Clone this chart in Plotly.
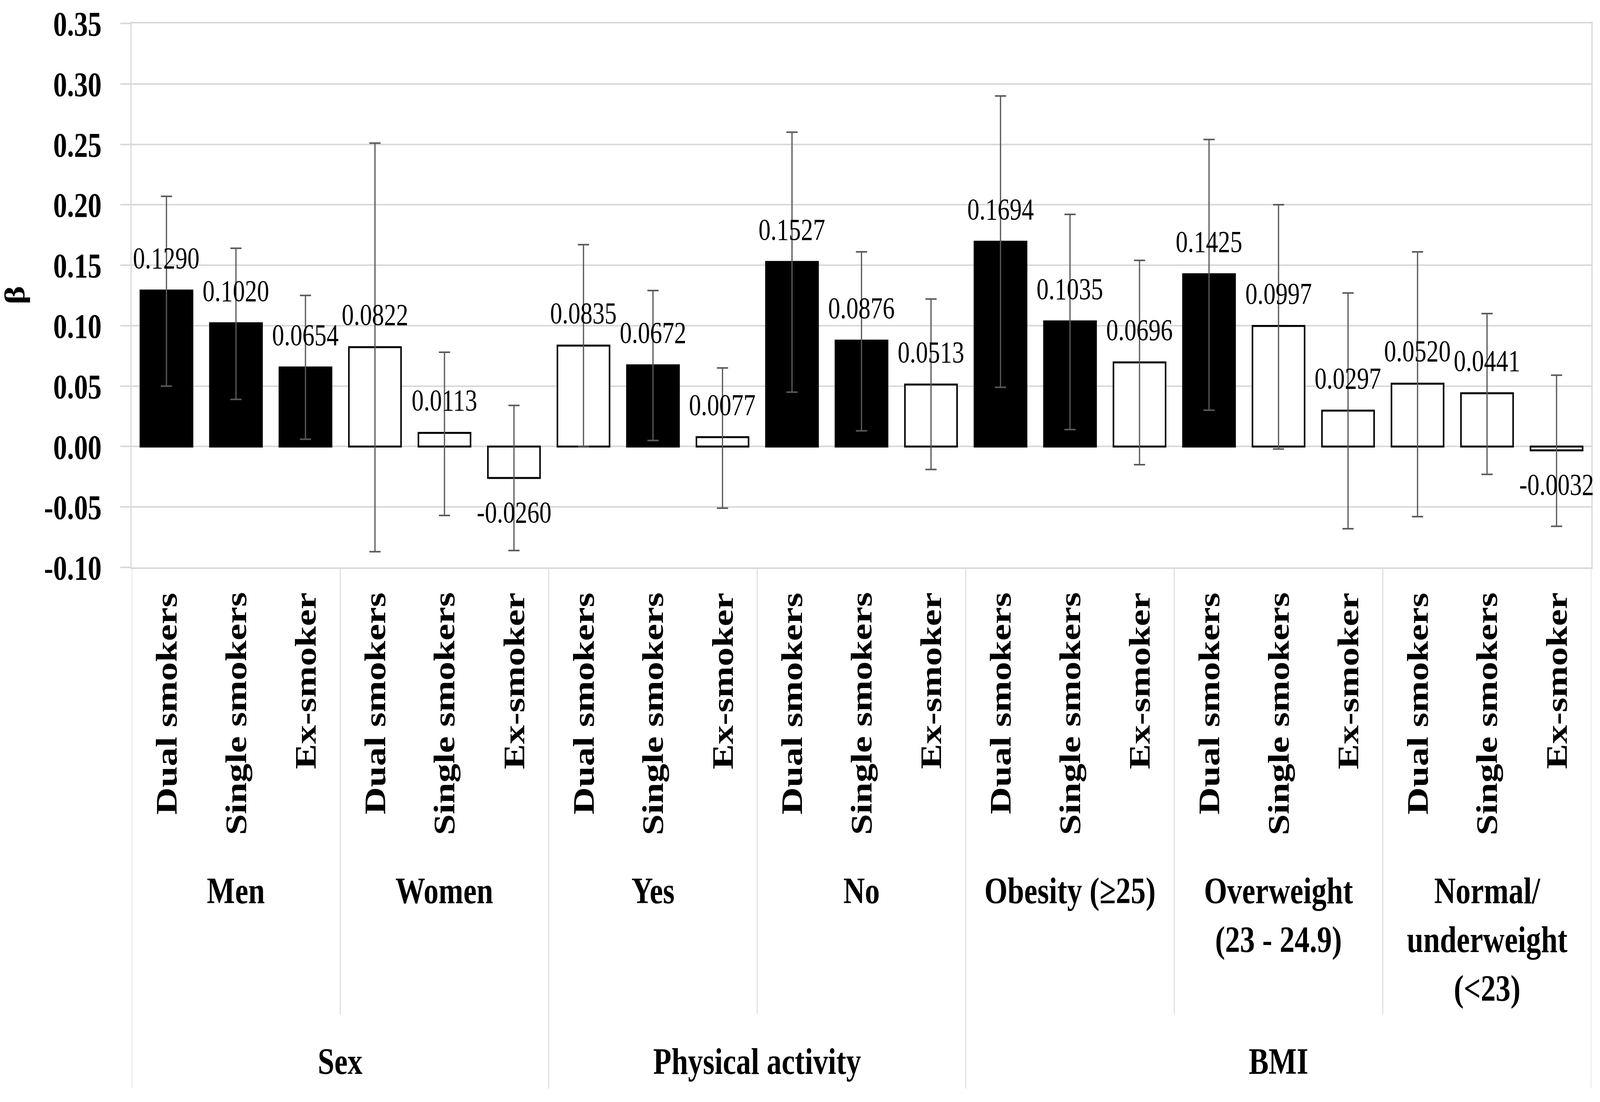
import plotly.graph_objects as go

# ---------------- data ----------------
level3_labels = ["Sex", "Physical activity", "BMI"]
level3_sizes = [2, 2, 3]          # number of level-2 groups in each level-3 group
level2_labels = ["Men", "Women", "Yes", "No", "Obesity (≥25)",
                 "Overweight\n(23 - 24.9)", "Normal/\nunderweight\n(<23)"]
subgroups = ["Dual smokers", "Single smokers", "Ex-smoker"]

beta = [0.1290, 0.1020, 0.0654,
        0.0822, 0.0113, -0.0260,
        0.0835, 0.0672, 0.0077,
        0.1527, 0.0876, 0.0513,
        0.1694, 0.1035, 0.0696,
        0.1425, 0.0997, 0.0297,
        0.0520, 0.0441, -0.0032]
ci_lower = [0.050, 0.039, 0.006,
            -0.087, -0.057, -0.086,
            0.000, 0.005, -0.051,
            0.045, 0.013, -0.019,
            0.049, 0.014, -0.015,
            0.030, -0.002, -0.068,
            -0.058, -0.023, -0.066]
ci_upper = [0.207, 0.164, 0.125,
            0.251, 0.078, 0.034,
            0.167, 0.129, 0.065,
            0.260, 0.161, 0.122,
            0.290, 0.192, 0.154,
            0.254, 0.200, 0.127,
            0.161, 0.110, 0.059]
significant = [1, 1, 1,
               0, 0, 0,
               0, 1, 0,
               1, 1, 0,
               1, 1, 0,
               1, 0, 0,
               0, 0, 0]
y_tickvals = [-0.10, -0.05, 0.00, 0.05, 0.10, 0.15, 0.20, 0.25, 0.30, 0.35]
y_ticktext = ["-0.10", "-0.05", "0.00", "0.05", "0.10", "0.15", "0.20", "0.25", "0.30", "0.35"]
y_title = "β"

# ---------------- figure ----------------
FONT = "Liberation Serif"
GRID = "#d9d9d9"
W, H = 5151, 2822

n = len(beta)
x = list(range(n))
nsub = len(subgroups)

fig = go.Figure()
fig.add_trace(go.Bar(
    x=x, y=beta,
    marker=dict(color=["black" if s else "white" for s in significant],
                line=dict(color="black", width=5)),
    error_y=dict(type="data", symmetric=False,
                 array=[u - b for u, b in zip(ci_upper, beta)],
                 arrayminus=[b - l for b, l in zip(beta, ci_lower)],
                 color="#595959", thickness=4, width=18),
    showlegend=False,
))

annotations = []
# value labels
for xi, b in zip(x, beta):
    annotations.append(dict(
        x=xi, y=b, xref="x", yref="y", text=f"{b:.4f}", showarrow=False,
        yanchor="bottom" if b >= 0 else "top", xanchor="center",
        yshift=38 if b >= 0 else -42,
        font=dict(family=FONT, size=78, color="black")))

# rotated subgroup labels
for xi in x:
    annotations.append(dict(
        x=xi, y=-0.0444, xref="x", yref="paper", text=subgroups[xi % nsub],
        showarrow=False, textangle=-90, xanchor="center", yanchor="top",
        font=dict(family=FONT, size=97, color="black", weight="bold")))

# level-2 labels
for gi, lab in enumerate(level2_labels):
    center = gi * nsub + (nsub - 1) / 2
    txt = lab.replace("<", "&lt;").replace("\n", "<br>")
    annotations.append(dict(
        x=center, y=-0.5540, xref="x", yref="paper", text=txt, showarrow=False,
        xanchor="center", yanchor="top", align="center",
        font=dict(family=FONT, size=96, color="black", weight="bold")))

# level-3 labels and divider lines
shapes = []
start = 0
for lab, size in zip(level3_labels, level3_sizes):
    first = start * nsub
    last = (start + size) * nsub - 1
    annotations.append(dict(
        x=(first + last) / 2, y=-0.9080, xref="x", yref="paper", text=lab,
        showarrow=False, xanchor="center", yanchor="middle",
        font=dict(family=FONT, size=96, color="black", weight="bold")))
    shapes.append(dict(type="line", xref="x", yref="paper",
                       x0=first - 0.5, x1=first - 0.5, y0=0, y1=-0.9580,
                       line=dict(color=GRID, width=3)))
    for k in range(1, size):
        bx = (start + k) * nsub - 0.5
        shapes.append(dict(type="line", xref="x", yref="paper",
                           x0=bx, x1=bx, y0=0, y1=-0.8210,
                           line=dict(color=GRID, width=3)))
    start += size
shapes.append(dict(type="line", xref="x", yref="paper",
                   x0=n - 0.5, x1=n - 0.5, y0=0, y1=-0.9580,
                   line=dict(color=GRID, width=3)))

# y axis title
annotations.append(dict(
    x=-0.0800, y=0.5, xref="paper", yref="paper", text=y_title, showarrow=False,
    textangle=-90, xanchor="center", yanchor="middle",
    font=dict(family=FONT, size=90, color="black", weight="bold")))

fig.update_layout(
    width=W, height=H,
    margin=dict(l=424, r=28, t=58, b=1369),
    paper_bgcolor="white", plot_bgcolor="white",
    bargap=0.25,
    annotations=annotations,
    shapes=shapes,
    font=dict(family=FONT, color="black"),
)
fig.update_xaxes(range=[-0.5, n - 0.5], showticklabels=False, showgrid=False,
                 zeroline=False, ticks="", showline=True, mirror=True,
                 linecolor=GRID, linewidth=4)
fig.update_yaxes(range=[-0.10, 0.35], tickvals=y_tickvals, ticktext=y_ticktext,
                 showgrid=True, gridcolor=GRID, gridwidth=4,
                 zeroline=True, zerolinecolor=GRID, zerolinewidth=4,
                 showline=True, mirror=True, linecolor=GRID, linewidth=4,
                 ticks="outside", ticklen=33, tickcolor=GRID, tickwidth=4,
                 ticklabelstandoff=42,
                 tickfont=dict(family=FONT, size=89, color="black", weight="bold"))

# fit the 5151 x 2822 figure exactly into whatever viewport the page gets
fit_js = """
(function(){
  var gd = document.getElementById('{plot_id}');
  var vw = window.innerWidth, vh = window.innerHeight;
  document.documentElement.style.margin = '0';
  document.body.style.margin = '0';
  document.body.style.overflow = 'hidden';
  var wrap = gd.parentElement;
  wrap.style.width = vw + 'px';
  wrap.style.height = vh + 'px';
  wrap.style.overflow = 'hidden';
  gd.style.transformOrigin = '0 0';
  gd.style.transform = 'scale(' + (vw / %d) + ',' + (vh / %d) + ')';
})();
""" % (W, H)

fig.write_html("out.html", config={"displayModeBar": False}, post_script=fit_js)
